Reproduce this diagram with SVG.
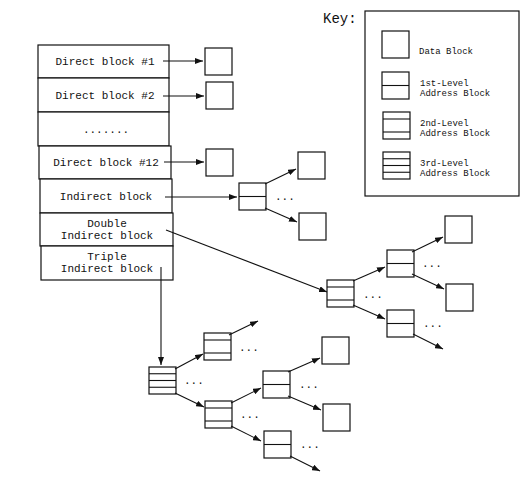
<svg xmlns="http://www.w3.org/2000/svg" xmlns:xlink="http://www.w3.org/1999/xlink" width="526" height="481" viewBox="0 0 526 481">
<style>
.box{fill:#fff;stroke:#111;stroke-width:1.2}
.ln{stroke:#111;stroke-width:1.1;fill:none}
.cn{stroke:#111;stroke-width:1.1;fill:none;marker-end:url(#ah)}
.t{font-family:"Liberation Mono","DejaVu Sans Mono",monospace;font-size:11px;fill:#111}
.k{font-family:"Liberation Mono","DejaVu Sans Mono",monospace;font-size:9px;fill:#111}
.key{font-family:"Liberation Mono","DejaVu Sans Mono",monospace;font-size:14px;fill:#111}
.m{text-anchor:middle}
</style>
<defs>
<marker id="ah" viewBox="0 0 8 6" refX="8" refY="3" markerWidth="8" markerHeight="6" orient="auto" markerUnits="userSpaceOnUse"><path d="M0,0 L8,3 L0,6 z" fill="#111"/></marker>
<g id="db"><rect class="box" x="0" y="0" width="27" height="27"/></g>
<g id="a1"><rect class="box" x="0" y="0" width="27" height="27"/><line class="ln" x1="0" y1="13.5" x2="27" y2="13.5"/></g>
<g id="a2"><rect class="box" x="0" y="0" width="27" height="27"/><line class="ln" x1="0" y1="7" x2="27" y2="7"/><line class="ln" x1="0" y1="20" x2="27" y2="20"/></g>
<g id="a3"><rect class="box" x="0" y="0" width="27" height="27"/><line class="ln" x1="0" y1="6.75" x2="27" y2="6.75"/><line class="ln" x1="0" y1="13.5" x2="27" y2="13.5"/><line class="ln" x1="0" y1="20.25" x2="27" y2="20.25"/></g>
</defs>
<rect width="526" height="481" fill="#fff"/>

<g id="inode">
<g id="row-direct1"><rect class="box" x="38" y="45" width="131" height="33"/><text class="t m" x="105" y="65">Direct block #1</text></g>
<g id="row-direct2"><rect class="box" x="38" y="78" width="131" height="34"/><text class="t m" x="105" y="99">Direct block #2</text></g>
<g id="row-dots"><rect class="box" x="38" y="112" width="131" height="34"/><text class="t m" x="106" y="133">.......</text></g>
<g id="row-direct12"><rect class="box" x="39" y="146" width="132" height="33"/><text class="t m" x="106" y="166">Direct block #12</text></g>
<g id="row-indirect"><rect class="box" x="40" y="179" width="132" height="34"/><text class="t m" x="106" y="200">Indirect block</text></g>
<g id="row-double"><rect class="box" x="40" y="213" width="133" height="33"/><text class="t m" x="107" y="227">Double</text><text class="t m" x="107" y="239">Indirect block</text></g>
<g id="row-triple"><rect class="box" x="41" y="246" width="132" height="34"/><text class="t m" x="107" y="260">Triple</text><text class="t m" x="107" y="272">Indirect block</text></g>
</g>

<g id="data-d1"><use xlink:href="#db" x="205" y="48"/></g>
<g id="data-d2"><use xlink:href="#db" x="206" y="82"/></g>
<g id="data-d12"><use xlink:href="#db" x="206" y="149"/></g>
<g id="addr-ind"><use xlink:href="#a1" x="239" y="183"/><text class="t" x="275" y="200">...</text></g>
<g id="data-ind1"><use xlink:href="#db" x="298" y="152"/></g>
<g id="data-ind2"><use xlink:href="#db" x="299" y="213"/></g>

<g id="addr-dbl"><use xlink:href="#a2" x="327" y="280"/><text class="t" x="363" y="298">...</text></g>
<g id="addr-dbl-1"><use xlink:href="#a1" x="387" y="250"/><text class="t" x="422" y="267">...</text></g>
<g id="addr-dbl-2"><use xlink:href="#a1" x="387" y="310"/><text class="t" x="423" y="327">...</text></g>
<g id="data-dbl-1"><use xlink:href="#db" x="445" y="216"/></g>
<g id="data-dbl-2"><use xlink:href="#db" x="446" y="284"/></g>

<g id="addr-tri"><use xlink:href="#a3" x="149" y="367"/><text class="t" x="184" y="384">...</text></g>
<g id="addr-tri-a"><use xlink:href="#a2" x="204" y="333"/><text class="t" x="239" y="351">...</text></g>
<g id="addr-tri-b"><use xlink:href="#a2" x="205" y="401"/><text class="t" x="240" y="418">...</text></g>
<g id="addr-tri-c"><use xlink:href="#a1" x="263" y="371"/><text class="t" x="299" y="388">...</text></g>
<g id="addr-tri-d"><use xlink:href="#a1" x="264" y="431"/><text class="t" x="300" y="448">...</text></g>
<g id="data-tri-1"><use xlink:href="#db" x="322" y="337"/></g>
<g id="data-tri-2"><use xlink:href="#db" x="323" y="404"/></g>

<g id="key">
<text class="key" x="323" y="23">Key:</text>
<rect class="box" x="365" y="11" width="154" height="185"/>
<use xlink:href="#db" x="382" y="31"/>
<text class="k" x="419" y="54">Data Block</text>
<use xlink:href="#a1" x="382" y="72"/>
<text class="k" x="420" y="86">1st-Level</text><text class="k" x="420" y="96">Address Block</text>
<use xlink:href="#a2" x="383" y="112"/>
<text class="k" x="420" y="126">2nd-Level</text><text class="k" x="420" y="136">Address Block</text>
<use xlink:href="#a3" x="383" y="152"/>
<text class="k" x="420" y="166">3rd-Level</text><text class="k" x="420" y="176">Address Block</text>
</g>

<g id="connectors">
<line class="cn" x1="163" y1="61" x2="203" y2="61"/>
<line class="cn" x1="163" y1="96" x2="204" y2="96"/>
<line class="cn" x1="164" y1="162" x2="204" y2="162"/>
<line class="cn" x1="165" y1="197" x2="237" y2="197"/>
<line class="cn" x1="265" y1="184" x2="296" y2="169"/>
<line class="cn" x1="265" y1="208" x2="297" y2="222"/>
<line class="cn" x1="166" y1="230" x2="327" y2="292"/>
<line class="cn" x1="353" y1="281" x2="385" y2="267"/>
<line class="cn" x1="353" y1="305" x2="385" y2="319"/>
<line class="cn" x1="412" y1="252" x2="443" y2="237"/>
<line class="cn" x1="412" y1="274" x2="444" y2="289"/>
<line class="cn" x1="413" y1="334" x2="443" y2="349"/>
<line class="cn" x1="161" y1="267" x2="161" y2="365"/>
<line class="cn" x1="175" y1="369" x2="203" y2="354"/>
<line class="cn" x1="175" y1="393" x2="204" y2="407"/>
<line class="cn" x1="229" y1="335" x2="258" y2="321"/>
<line class="cn" x1="231" y1="403" x2="261" y2="388"/>
<line class="cn" x1="231" y1="426" x2="261" y2="441"/>
<line class="cn" x1="288" y1="372" x2="320" y2="358"/>
<line class="cn" x1="288" y1="396" x2="321" y2="410"/>
<line class="cn" x1="290" y1="456" x2="320" y2="471"/>
</g>
</svg>
